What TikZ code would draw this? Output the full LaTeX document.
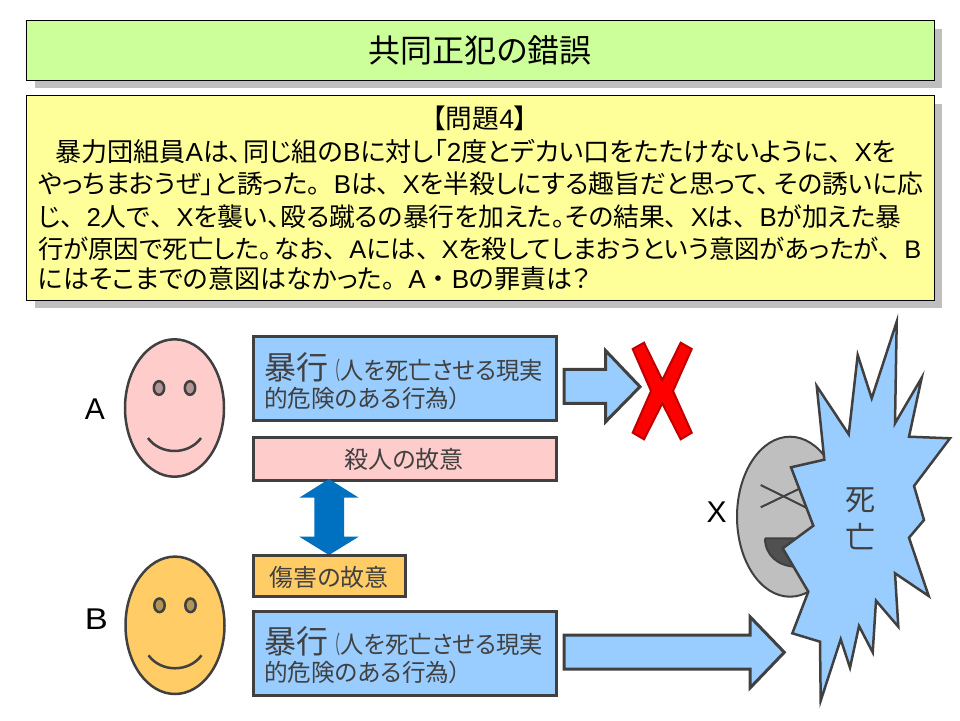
\documentclass[tikz,border=0pt]{standalone}
\usepackage{fontspec}
\usepackage{graphicx}
\newfontfamily\jp[RawFeature=+palt]{Noto Sans CJK JP}
\newfontfamily\jpfull{Noto Sans CJK JP}
\newfontfamily\lat{Liberation Sans}
\usepackage{tikz}
\definecolor{ink}{HTML}{404040}
\definecolor{shadowgray}{HTML}{BFBFBF}
\definecolor{skyfill}{HTML}{99CCFF}
\definecolor{pinkfill}{HTML}{FFCCCC}
\definecolor{orangefill}{HTML}{FFCC66}
\definecolor{titlefill}{HTML}{CCFF99}
\definecolor{textfill}{HTML}{FFFF99}
\definecolor{arrowblue}{HTML}{0070C0}
\definecolor{crossred}{HTML}{FF0000}
\definecolor{crossdark}{HTML}{C00000}
\definecolor{mouthgray}{HTML}{505050}
\newcommand{\jpsize}[1]{\fontsize{#1}{#1}\selectfont\jp}
\newcommand{\la}[1]{{\lat #1}}
\newcommand{\pn}[1]{{\jpfull #1}}
\newcommand{\pu}{\hskip 0pt plus 1fil\relax}
\newcommand{\panel}[5]{ \fill[shadowgray] ( #1+8 , #2+8 ) rectangle ( #3+8 , #4+8 ); \draw[black,line width=1pt,fill=#5] ( #1 , #2 ) rectangle ( #3 , #4 );}
\newcommand{\cell}[5]{ \draw[ink,line width=3pt,fill=#5] ( #1 , #2 ) rectangle ( #3 , #4 );}
\newcommand{\lablline}[6]{\node[inner sep=0pt,anchor=base west] (#1) at ( #2 , #3 ) {\makebox[#4pt][s]{\jpsize{#5}#6}};}
\newcommand{\lablact}[3]{\node[inner sep=0pt,anchor=base west,text=ink] (#1v) at ( 264 , #2 ) {\jpsize{32}暴行};
\node[inner sep=0pt,anchor=base west,text=ink] (#1a) at ( 328.5 , #2 ) {\jpsize{24}\scalebox{.5}[1]{\pn{（}}\resizebox{202pt}{\height}{人を死亡させる現実}};
\node[inner sep=0pt,anchor=base west,text=ink] (#1b) at ( 264 , #3 ) {\resizebox{197pt}{\height}{\jpsize{24}的危険のある行為）}};}
\newcommand{\lablface}[4]{\draw[ink,line width=2.5pt,fill=#4] ( #1 , #2 ) ellipse (49.5 and 68.7);
\draw[ink,line width=2.5pt,fill=#3] ( #1-15.5 , #2-20 ) ellipse (5.2 and 6.8);
\draw[ink,line width=2.5pt,fill=#3] ( #1+15.5 , #2-20 ) ellipse (5.2 and 6.8);
\draw[ink,line width=2.5pt] ( #1-26.5 , #2+30 ) .. controls ( #1-14 , #2+47.3 ) and ( #1+14 , #2+47.3 ) .. ( #1+26.5 , #2+30 );}
\begin{document}
\begin{tikzpicture}[x=1pt,y=-1pt]
\useasboundingbox (0,0) rectangle (960,720);
% title
\panel{26.5}{20.5}{934}{80}{titlefill}
\node[inner sep=0pt] (title) at (480,50) {\jpsize{32}共同正犯の錯誤};
% problem text
\panel{26.5}{95.5}{934}{300}{textfill}
\node[inner sep=0pt,anchor=base] (head) at (480,128) {\jpsize{26.67}【問題\la{4}】};
\lablline{line1}{55}{161}{841}{26.1}{暴力団組員\la{A}は、\pu 同じ組の\la{B}に対し「\la{2}度とデカい口をたたけないように\pn{、}\la{X}を}
\lablline{line2}{38}{193}{885}{25.8}{やっちまおうぜ」と誘った\pn{。}\la{B}は\pn{、}\la{X}を半殺しにする趣旨だと思って、\pu その誘いに応}
\lablline{line3}{38}{226}{862}{25.8}{じ\pn{、}\la{2}人で\pn{、}\la{X}を襲い、\pu 殴る蹴るの暴行を加えた。\pu その結果\pn{、}\la{X}は\pn{、}\la{B}が加えた暴}
\lablline{line4}{38}{258}{883}{25.4}{行が原因で死亡した。\pu なお\pn{、}\la{A}には\pn{、}\la{X}を殺してしまおうという意図があったが\pn{、}\la{B}}
\lablline{line5}{38}{288}{549}{26}{にはそこまでの意図はなかった\pn{。}\la{A}\pn{・}\la{B}の罪責は\pu ？}
% person A
\lablface{174.5}{408}{pinkfill!60!ink}{pinkfill}
\node[inner sep=0pt] (nameA) at (95,409) {\lat\fontsize{30}{30}\selectfont A};
\cell{253.3}{336.7}{556.5}{420.7}{skyfill}
\lablact{actA}{379}{407}
\cell{253.3}{437}{556.5}{480}{pinkfill}
\node[inner sep=0pt,text=ink] (intentA) at (404,459) {\jpsize{24}殺人の故意};
% arrow of A and red cross
\draw[ink,line width=3pt,fill=skyfill,miter limit=10] (564,369.3) -- (605.7,369.3) -- (605.7,350.7) -- (640,386.7) -- (605.7,421.7) -- (605.7,403.3) -- (564,403.3) -- cycle;
\draw[crossdark,line width=2pt,fill=crossred] (632.7,349) -- (644,342.7) -- (662.3,380) -- (680.7,342.7) -- (691.7,349) -- (673,391) -- (691.7,432.7) -- (680.7,439.3) -- (662.3,403.3) -- (644,439.3) -- (632.7,432.7) -- (651,391) -- cycle;
% between the intents
\fill[arrowblue] (329,479) -- (358.7,497.7) -- (344,497.7) -- (344,536.7) -- (358.7,536.7) -- (329,555) -- (299.3,536.7) -- (314.3,536.7) -- (314.3,497.7) -- (299.3,497.7) -- cycle;
% person B
\lablface{175}{625.3}{orangefill!60!ink}{orangefill}
\node[inner sep=0pt] (nameB) at (96.5,619) {\lat\fontsize{30}{30}\selectfont\scalebox{1.15}[1]{B}};
\cell{253.3}{555}{405}{596.7}{orangefill}
\node[inner sep=0pt,text=ink] (intentB) at (329,577) {\jpsize{24}傷害の故意};
\cell{253.3}{611}{556.5}{695}{skyfill}
\lablact{actB}{653}{681}
% arrow of B
\draw[ink,line width=3pt,fill=skyfill,miter limit=10] (564,635) -- (750,635) -- (750,616.7) -- (784.3,652.3) -- (750,688) -- (750,669) -- (564,669) -- cycle;
% person X
\node[inner sep=0pt] (nameX) at (716.5,512) {\lat\fontsize{30}{30}\selectfont X};
\draw[ink,line width=2pt,fill=shadowgray] (790,516.7) ellipse (53 and 80);
\draw[ink,line width=2pt] (760.7,485) -- (815,512);
\draw[ink,line width=2pt] (760.7,507.3) -- (805,486);
\draw[ink,line width=2pt,fill=mouthgray] (765,538.3) -- (805,538.3) -- (795,566.7) .. controls (778,566) and (765,555) .. (765,538.3);
% death
\draw[ink,line width=2.5pt,fill=skyfill,miter limit=10] (896.7,321.7) -- (895,423.3) -- (921.7,377.7) -- (909,436.7) -- (950,438.3) -- (914,486) -- (924,520) -- (909,537.7) -- (928.7,596) -- (895,573.3) -- (898.3,626.7) -- (876,600.7) -- (872.7,652.3) -- (859,626) -- (850,667.7) -- (840.7,639.3) -- (820.7,700.7) -- (820,641.7) -- (792.3,633.3) -- (808.3,591.7) -- (782.7,548.3) -- (813.3,525.7) -- (791,467.3) -- (824.3,459.7) -- (816.7,386) -- (848.7,434.3) -- (857.7,355) -- (871.7,398.3) -- cycle;
\node[inner sep=0pt,text=ink] (deathA) at (860,500) {\jpsize{30}死};
\node[inner sep=0pt,text=ink] (deathB) at (860,537) {\jpsize{30}亡};
\end{tikzpicture}
\end{document}
